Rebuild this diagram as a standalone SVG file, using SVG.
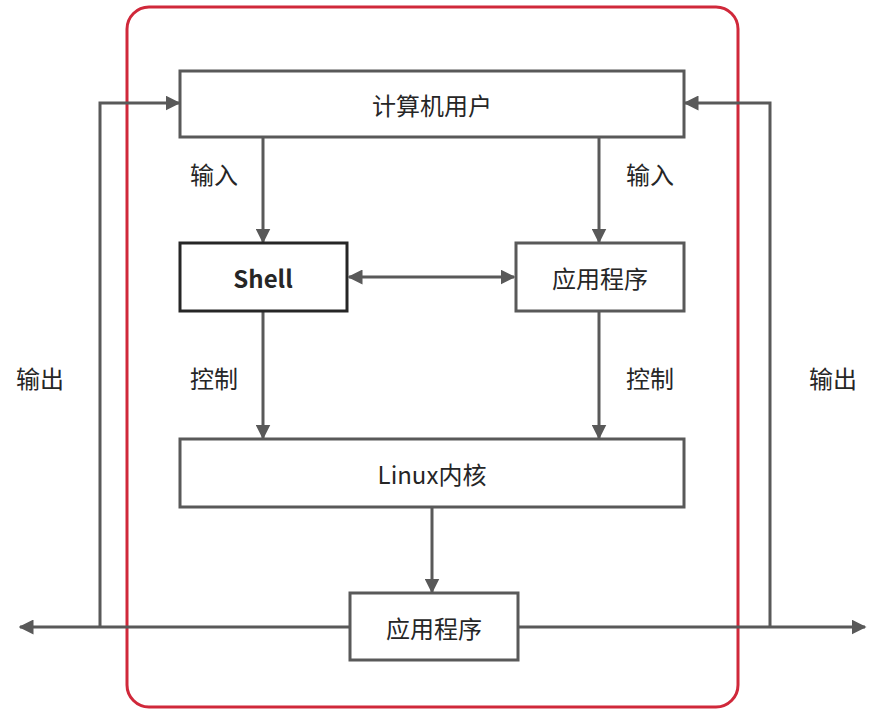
<svg xmlns="http://www.w3.org/2000/svg" width="878" height="714" viewBox="0 0 878 714">
<style>
.b{fill:#fff;stroke:#595959;stroke-width:3}
.l{fill:none;stroke:#595959;stroke-width:3}
text{font-family:"Noto Sans CJK SC","Noto Sans",sans-serif;font-size:24px;fill:#262626;text-anchor:middle;dominant-baseline:central}
</style>
<defs><marker id="a" viewBox="0 0 10 10" refX="9" refY="5" markerWidth="5" markerHeight="5" orient="auto-start-reverse"><path d="M0,0L10,5L0,10z" fill="#595959"/></marker></defs>
<rect x="127" y="7" width="611" height="700" rx="22" fill="none" stroke="#d0283a" stroke-width="3"/>
<g id="connectors">
<path class="l" d="M20,627H865" marker-start="url(#a)" marker-end="url(#a)"/>
<path class="l" d="M100,627V103H179" marker-end="url(#a)"/>
<path class="l" d="M770,627V103H685" marker-end="url(#a)"/>
<path class="l" d="M263,138V242" marker-end="url(#a)"/>
<path class="l" d="M599,138V242" marker-end="url(#a)"/>
<path class="l" d="M349,277H514" marker-start="url(#a)" marker-end="url(#a)"/>
<path class="l" d="M263,312V438" marker-end="url(#a)"/>
<path class="l" d="M599,312V438" marker-end="url(#a)"/>
<path class="l" d="M432,508V592" marker-end="url(#a)"/>
</g>
<text x="214" y="173">输入</text><text x="650" y="173">输入</text>
<text x="214" y="377">控制</text><text x="650" y="377">控制</text>
<text x="40" y="377">输出</text><text x="833" y="377">输出</text>
<g id="user"><rect class="b" x="180" y="71" width="504" height="66"/><text x="432" y="104">计算机用户</text></g>
<g id="shell"><rect x="180" y="243" width="167" height="68" fill="#fff" stroke="#262626" stroke-width="3"/><text x="263" y="277" font-weight="bold">Shell</text></g>
<g id="app1"><rect class="b" x="516" y="243" width="168" height="68"/><text x="600" y="277">应用程序</text></g>
<g id="kernel"><rect class="b" x="180" y="439" width="504" height="68"/><text x="432" y="473">Linux内核</text></g>
<g id="app2"><rect class="b" x="350" y="593" width="168" height="67"/><text x="434" y="627">应用程序</text></g>
</svg>
